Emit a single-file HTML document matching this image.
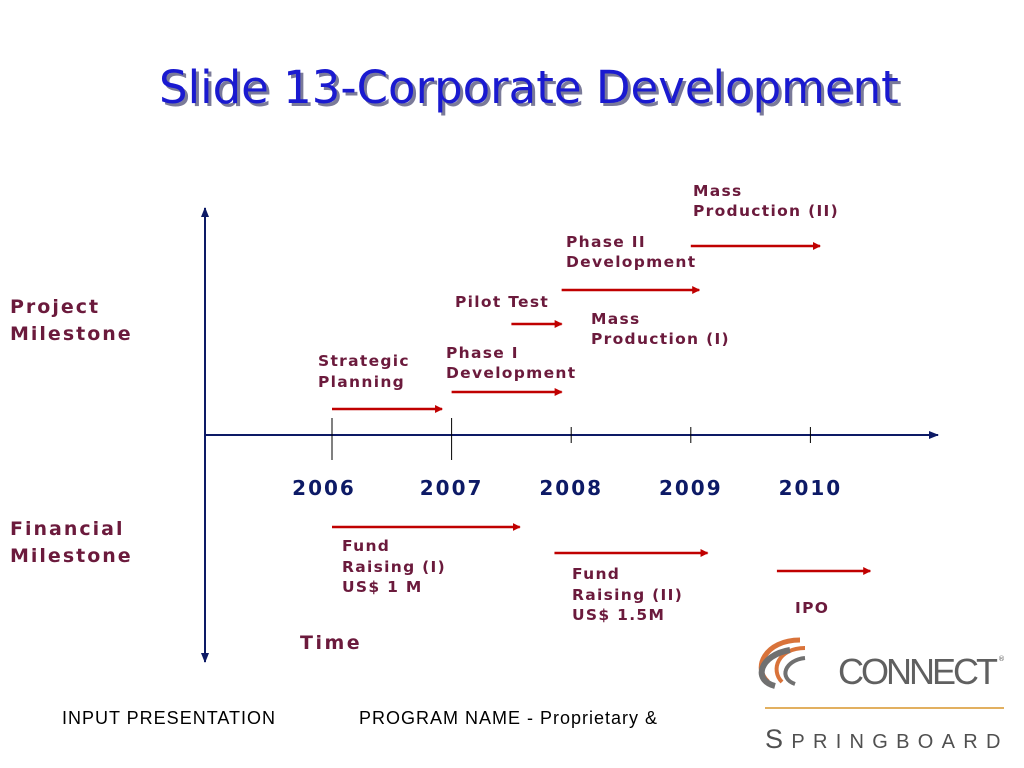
<!DOCTYPE html>
<html><head><meta charset="utf-8"><style>
body{margin:0;background:#fff;width:1024px;height:768px;overflow:hidden;font-family:"DejaVu Sans","Liberation Sans",sans-serif}
svg{display:block}
.lbl{font-weight:bold;font-size:15.5px;fill:#6b1a3c;letter-spacing:1.3px}
.yr{font-weight:bold;font-size:20px;fill:#0d1a66;letter-spacing:2px}
.big{font-size:19px;letter-spacing:2px}
</style></head><body>
<svg width="1024" height="768">
<defs>
<marker id="ra" markerWidth="8" markerHeight="8" refX="7" refY="4" orient="auto" markerUnits="userSpaceOnUse"><path d="M0,0 L8,4 L0,8 z" fill="#c00000"/></marker>
<marker id="na" markerWidth="10" markerHeight="10" refX="9" refY="5" orient="auto" markerUnits="userSpaceOnUse"><path d="M0,1 L10,5 L0,9 z" fill="#0d1a66"/></marker>
</defs>
<text x="162" y="106" font-size="45" fill="#7a7a99">Slide 13-Corporate Development</text>
<text x="159" y="103" font-size="45" fill="#1a1ad0">Slide 13-Corporate Development</text>
<line x1="205" y1="660" x2="205" y2="208" stroke="#0d1a66" stroke-width="2" marker-end="url(#na)"/>
<line x1="205" y1="640" x2="205" y2="662" stroke="#0d1a66" stroke-width="2" marker-end="url(#na)"/>
<line x1="205" y1="435" x2="938" y2="435" stroke="#0d1a66" stroke-width="2" marker-end="url(#na)"/>
<g id="ticks"></g><g id="arrows"></g>
<text class="lbl big" x="10" y="313">Project</text>
<text class="lbl big" x="10" y="340">Milestone</text>
<text class="lbl big" x="10" y="535">Financial</text>
<text class="lbl big" x="10" y="562">Milestone</text>
<text class="lbl big" x="300" y="649" style="letter-spacing:2.5px">Time</text>
<g class="lbl">
<text x="693" y="196">Mass</text><text x="693" y="216">Production (II)</text>
<text x="566" y="247">Phase II</text><text x="566" y="267">Development</text>
<text x="455" y="307">Pilot Test</text>
<text x="591" y="324">Mass</text><text x="591" y="344">Production (I)</text>
<text x="446" y="358">Phase I</text><text x="446" y="378">Development</text>
<text x="318" y="366">Strategic</text><text x="318" y="387">Planning</text>
<text x="342" y="551">Fund</text><text x="342" y="572">Raising (I)</text><text x="342" y="592">US$ 1 M</text>
<text x="572" y="579">Fund</text><text x="572" y="600">Raising (II)</text><text x="572" y="620">US$ 1.5M</text>
<text x="795" y="613">IPO</text>
</g>
<text x="62" y="724" font-family="Liberation Sans" font-size="18" letter-spacing="1" fill="#000">INPUT PRESENTATION</text>
<text x="359" y="724" font-family="Liberation Sans" font-size="18" letter-spacing="1" fill="#000">PROGRAM NAME - Proprietary &amp;</text>
<g>
<path d="M800,640 C765,640 752,668 768,682" stroke="#d9733a" stroke-width="5" fill="none"/>
<path d="M805,648 C778,648 770,670 782,682" stroke="#d9733a" stroke-width="4" fill="none"/>
<path d="M790,650 C760,655 752,680 775,686" stroke="#707070" stroke-width="6" fill="none"/>
<path d="M805,658 C785,660 778,678 795,684" stroke="#707070" stroke-width="4" fill="none"/>
<text x="838" y="684" font-family="Liberation Sans" font-size="36" fill="#606060" letter-spacing="-3">CONNECT</text>
<text x="998" y="661" font-size="7" fill="#606060">®</text>
<line x1="765" y1="708" x2="1004" y2="708" stroke="#e2b060" stroke-width="2"/>
<text x="765" y="748" font-family="Liberation Sans" font-size="20" fill="#505050" letter-spacing="8.3"><tspan font-size="27">S</tspan>PRINGBOARD</text>
</g>
</svg>
<script>
const years=[2006,2007,2008,2009,2010];
const projStart=[2006.0,2007.0,2007.5,2007.92,2009.0];
const projEnd=[2006.92,2007.92,2007.92,2009.07,2010.08];
const projRow=[409,392,324,290,246];
const finStart=[2006.0,2007.86,2009.72];
const finEnd=[2007.57,2009.14,2010.5];
const finRow=[527,553,571];
const X=y=>332+(y-2006)*119.6;
const NS='http://www.w3.org/2000/svg';
const tk=document.getElementById('ticks'),ar=document.getElementById('arrows');
years.forEach((y,i)=>{
 const l=document.createElementNS(NS,'line');
 l.setAttribute('x1',X(y));l.setAttribute('x2',X(y));
 l.setAttribute('y1',i<2?418:427);l.setAttribute('y2',i<2?460:443);
 l.setAttribute('stroke','#000');l.setAttribute('stroke-width','1');
 
 
 tk.appendChild(l);
 const t=document.createElementNS(NS,'text');
 t.setAttribute('x',X(y)-(i===0?8:0));t.setAttribute('y',495);t.setAttribute('text-anchor','middle');t.setAttribute('class','yr');
 t.textContent=y;
 
 
 tk.appendChild(t);
});
function arrow(s,e,yy,name){
 const l=document.createElementNS(NS,'line');
 l.setAttribute('x1',X(s));l.setAttribute('x2',X(e));l.setAttribute('y1',yy);l.setAttribute('y2',yy);
 l.setAttribute('stroke','#c00000');l.setAttribute('stroke-width','2.5');l.setAttribute('marker-end','url(#ra)');
 
 
 ar.appendChild(l);
}
projStart.forEach((s,i)=>arrow(s,projEnd[i],projRow[i],'project-arrow-'+i));
finStart.forEach((s,i)=>arrow(s,finEnd[i],finRow[i],'financial-arrow-'+i));
</script>
</body></html>
